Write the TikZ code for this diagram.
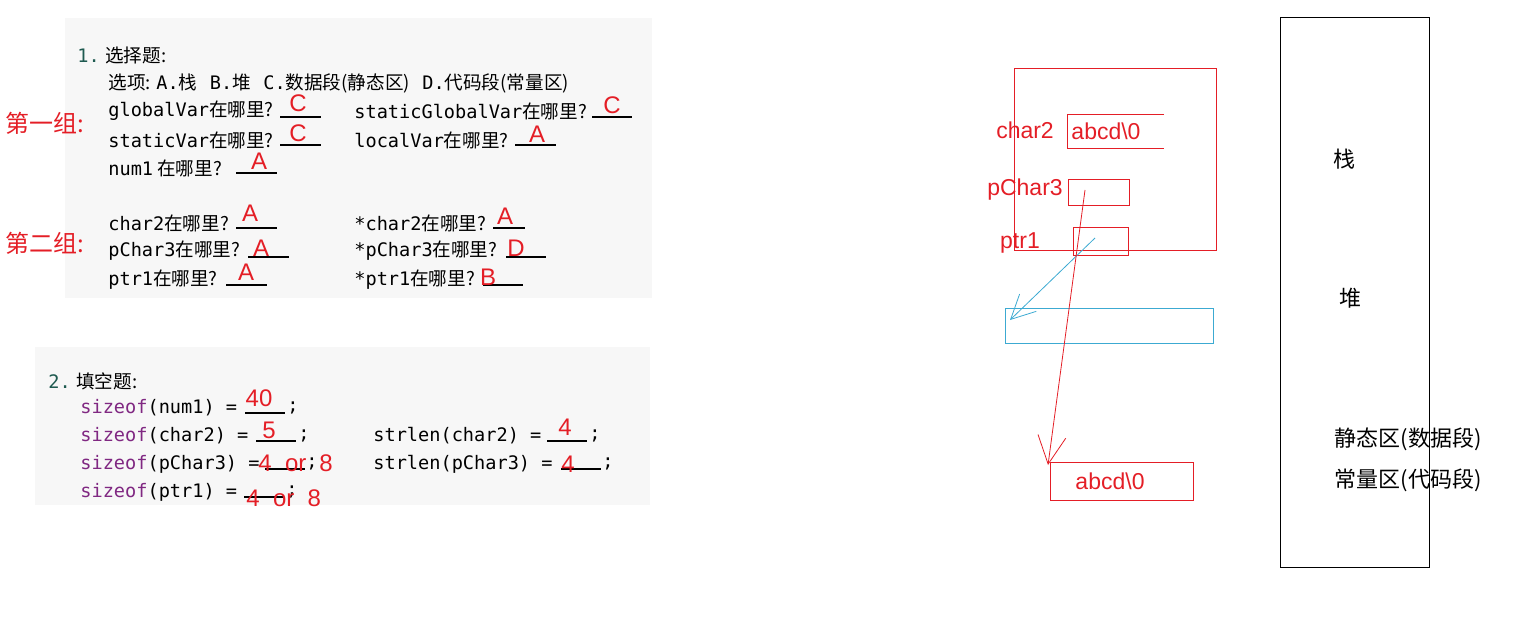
\documentclass[tikz,border=0pt]{standalone}
\usepackage{fontspec}
\setmainfont{Noto Sans CJK SC}
\setmonofont{DejaVu Sans Mono}
\newfontfamily\hand{Liberation Sans}
\usetikzlibrary{arrows.meta}
\definecolor{panelbg}{RGB}{247,247,247}
\definecolor{ink}{RGB}{228,30,38}
\definecolor{kw}{RGB}{128,40,130}
\definecolor{num}{RGB}{30,90,80}
\definecolor{cy}{RGB}{60,170,210}
\begin{document}
\begin{tikzpicture}[x=0.5pt,y=-0.5pt,
  q/.style={anchor=west,inner sep=0,yshift=-1.5pt,font=\fontsize{9.3}{10}\selectfont},
  ans/.style={inner sep=0,text=ink,font=\hand\fontsize{12}{12}\selectfont},
  grp/.style={anchor=west,inner sep=0,yshift=-1.5pt,text=ink,font=\fontsize{12}{12}\selectfont},
  ul/.style={line width=0.7pt},
  lab/.style={inner sep=0,text=ink,font=\hand\fontsize{11.5}{12}\selectfont},
  seg/.style={inner sep=0,font=\fontsize{11}{12}\selectfont}]
\useasboundingbox (0,0) rectangle (1518,620);
% panel 1
\fill[panelbg] (65,18) rectangle (652,298);
\node[q] (t1) at (77,52) {\texttt{\color{num}1.} 选择题:};
\node[q] (op) at (108,80) {选项: \texttt{A.}栈\ \ \ \texttt{B.}堆\ \ \ \texttt{C.}数据段(静态区)\ \ \ \texttt{D.}代码段(常量区)};
\node[grp] (g1) at (5,120) {第一组:};
\node[grp] (g2) at (5,240) {第二组:};
\node[q] (a1) at (108,108) {\texttt{globalVar}在哪里?};
\node[q] (a2) at (354,108) {\texttt{staticGlobalVar}在哪里?};
\node[q] (a3) at (108,137) {\texttt{staticVar}在哪里?};
\node[q] (a4) at (354,137) {\texttt{localVar}在哪里?};
\node[q] (a5) at (108,165) {\texttt{num1} 在哪里?};
\node[q] (b1) at (108,220) {\texttt{char2}在哪里?};
\node[q] (b2) at (354,220) {\texttt{*char2}在哪里?};
\node[q] (b3) at (108,248) {\texttt{pChar3}在哪里?};
\node[q] (b4) at (354,248) {\texttt{*pChar3}在哪里?};
\node[q] (b5) at (108,277) {\texttt{ptr1}在哪里?};
\node[q] (b6) at (354,277) {\texttt{*ptr1}在哪里?};
\foreach \xa/\xb/\yy in {280/321/117, 592/632/117, 280/321/145, 515/556/145, 236/277/173, 236/277/228, 493/525/228, 248/289/257, 506/546/257, 226/267/285, 483/523/285}
  \draw[ul] (\xa,\yy) -- (\xb,\yy);
\node[ans] at (298,103) {C};
\node[ans] at (612,105) {C};
\node[ans] at (298,133) {C};
\node[ans] at (537,134) {A};
\node[ans] at (259,161) {A};
\node[ans] at (250,213) {A};
\node[ans] at (505,216) {A};
\node[ans] at (261,248) {A};
\node[ans] at (516,248) {D};
\node[ans] at (488,277) {B};
\node[ans] at (246,272) {A};
% panel 2
\fill[panelbg] (35,347) rectangle (650,505);
\node[q] (t2) at (48,378) {\texttt{\color{num}2.} 填空题:};
\node[q] (c1) at (80,405) {\texttt{\color{kw}sizeof\color{black}(num1) =}};
\node[q] (c2) at (80,433) {\texttt{\color{kw}sizeof\color{black}(char2) =}};
\node[q] (c3) at (80,461) {\texttt{\color{kw}sizeof\color{black}(pChar3) =}};
\node[q] (c4) at (80,489) {\texttt{\color{kw}sizeof\color{black}(ptr1) =}};
\node[q] (d1) at (373,433) {\texttt{strlen(char2) =}};
\node[q] (d2) at (373,461) {\texttt{strlen(pChar3) =}};
\node[q] at (287,405) {\texttt{;}};
\node[q] at (298,433) {\texttt{;}};
\node[q] at (306,461) {\texttt{;}};
\node[q] at (286,489) {\texttt{;}};
\node[q] at (589,433) {\texttt{;}};
\node[q] at (602,461) {\texttt{;}};
\foreach \xa/\xb/\yy in {245/285/413, 256/296/441, 265/305/469, 244/284/497, 547/587/441, 561/601/469}
  \draw[ul] (\xa,\yy) -- (\xb,\yy);
\node[ans] at (259,398) {40};
\node[ans] at (269,430) {5};
\node[ans,anchor=west] at (258,463) {4\ \ or};
\node[ans] at (326,463) {8};
\node[ans] at (565,427) {4};
\node[ans] at (568,464) {4};
\node[ans,anchor=west] at (246,498) {4\ \ or\ \ 8};
% right diagram
\draw[ink] (1014,68) rectangle (1216,250);
\node[lab] (l1) at (1025,130) {char2};
\node[lab] (l2) at (1025,190) {pChar3};
\node[lab] (l3) at (1020,243) {ptr1};
\draw[ink] (1164,114) -- (1067,114) -- (1067,148) -- (1164,148);
\node[lab] (s1) at (1106,131) {abcd\textbackslash 0};
\draw[ink] (1068,179) rectangle (1129,205);
\draw[ink] (1073,227) rectangle (1128,255);
\draw[cy] (1005,308) rectangle (1213,343);
\coordinate (p3) at (1085,190);
\coordinate (pt) at (1095,238);
\coordinate (ct) at (1010,320);
\draw[ink] (1050,462) rectangle (1193,500);
\node[lab] (s2) at (1110,481) {abcd\textbackslash 0};
\coordinate (st) at (1048,465);
\draw[cy,-{Straight Barb[length=12pt,width=12pt]}] (pt) -- (ct);
\draw[ink,-{Straight Barb[length=14pt,width=14pt]}] (p3) -- (st);
\draw[black] (1280,17) rectangle (1429,567);
\node[seg] (m1) at (1344,159) {栈};
\node[seg] (m2) at (1350,298) {堆};
\node[seg] (m3) at (1408,439) {静态区(数据段)};
\node[seg] (m4) at (1408,480) {常量区(代码段)};
\end{tikzpicture}
\end{document}
